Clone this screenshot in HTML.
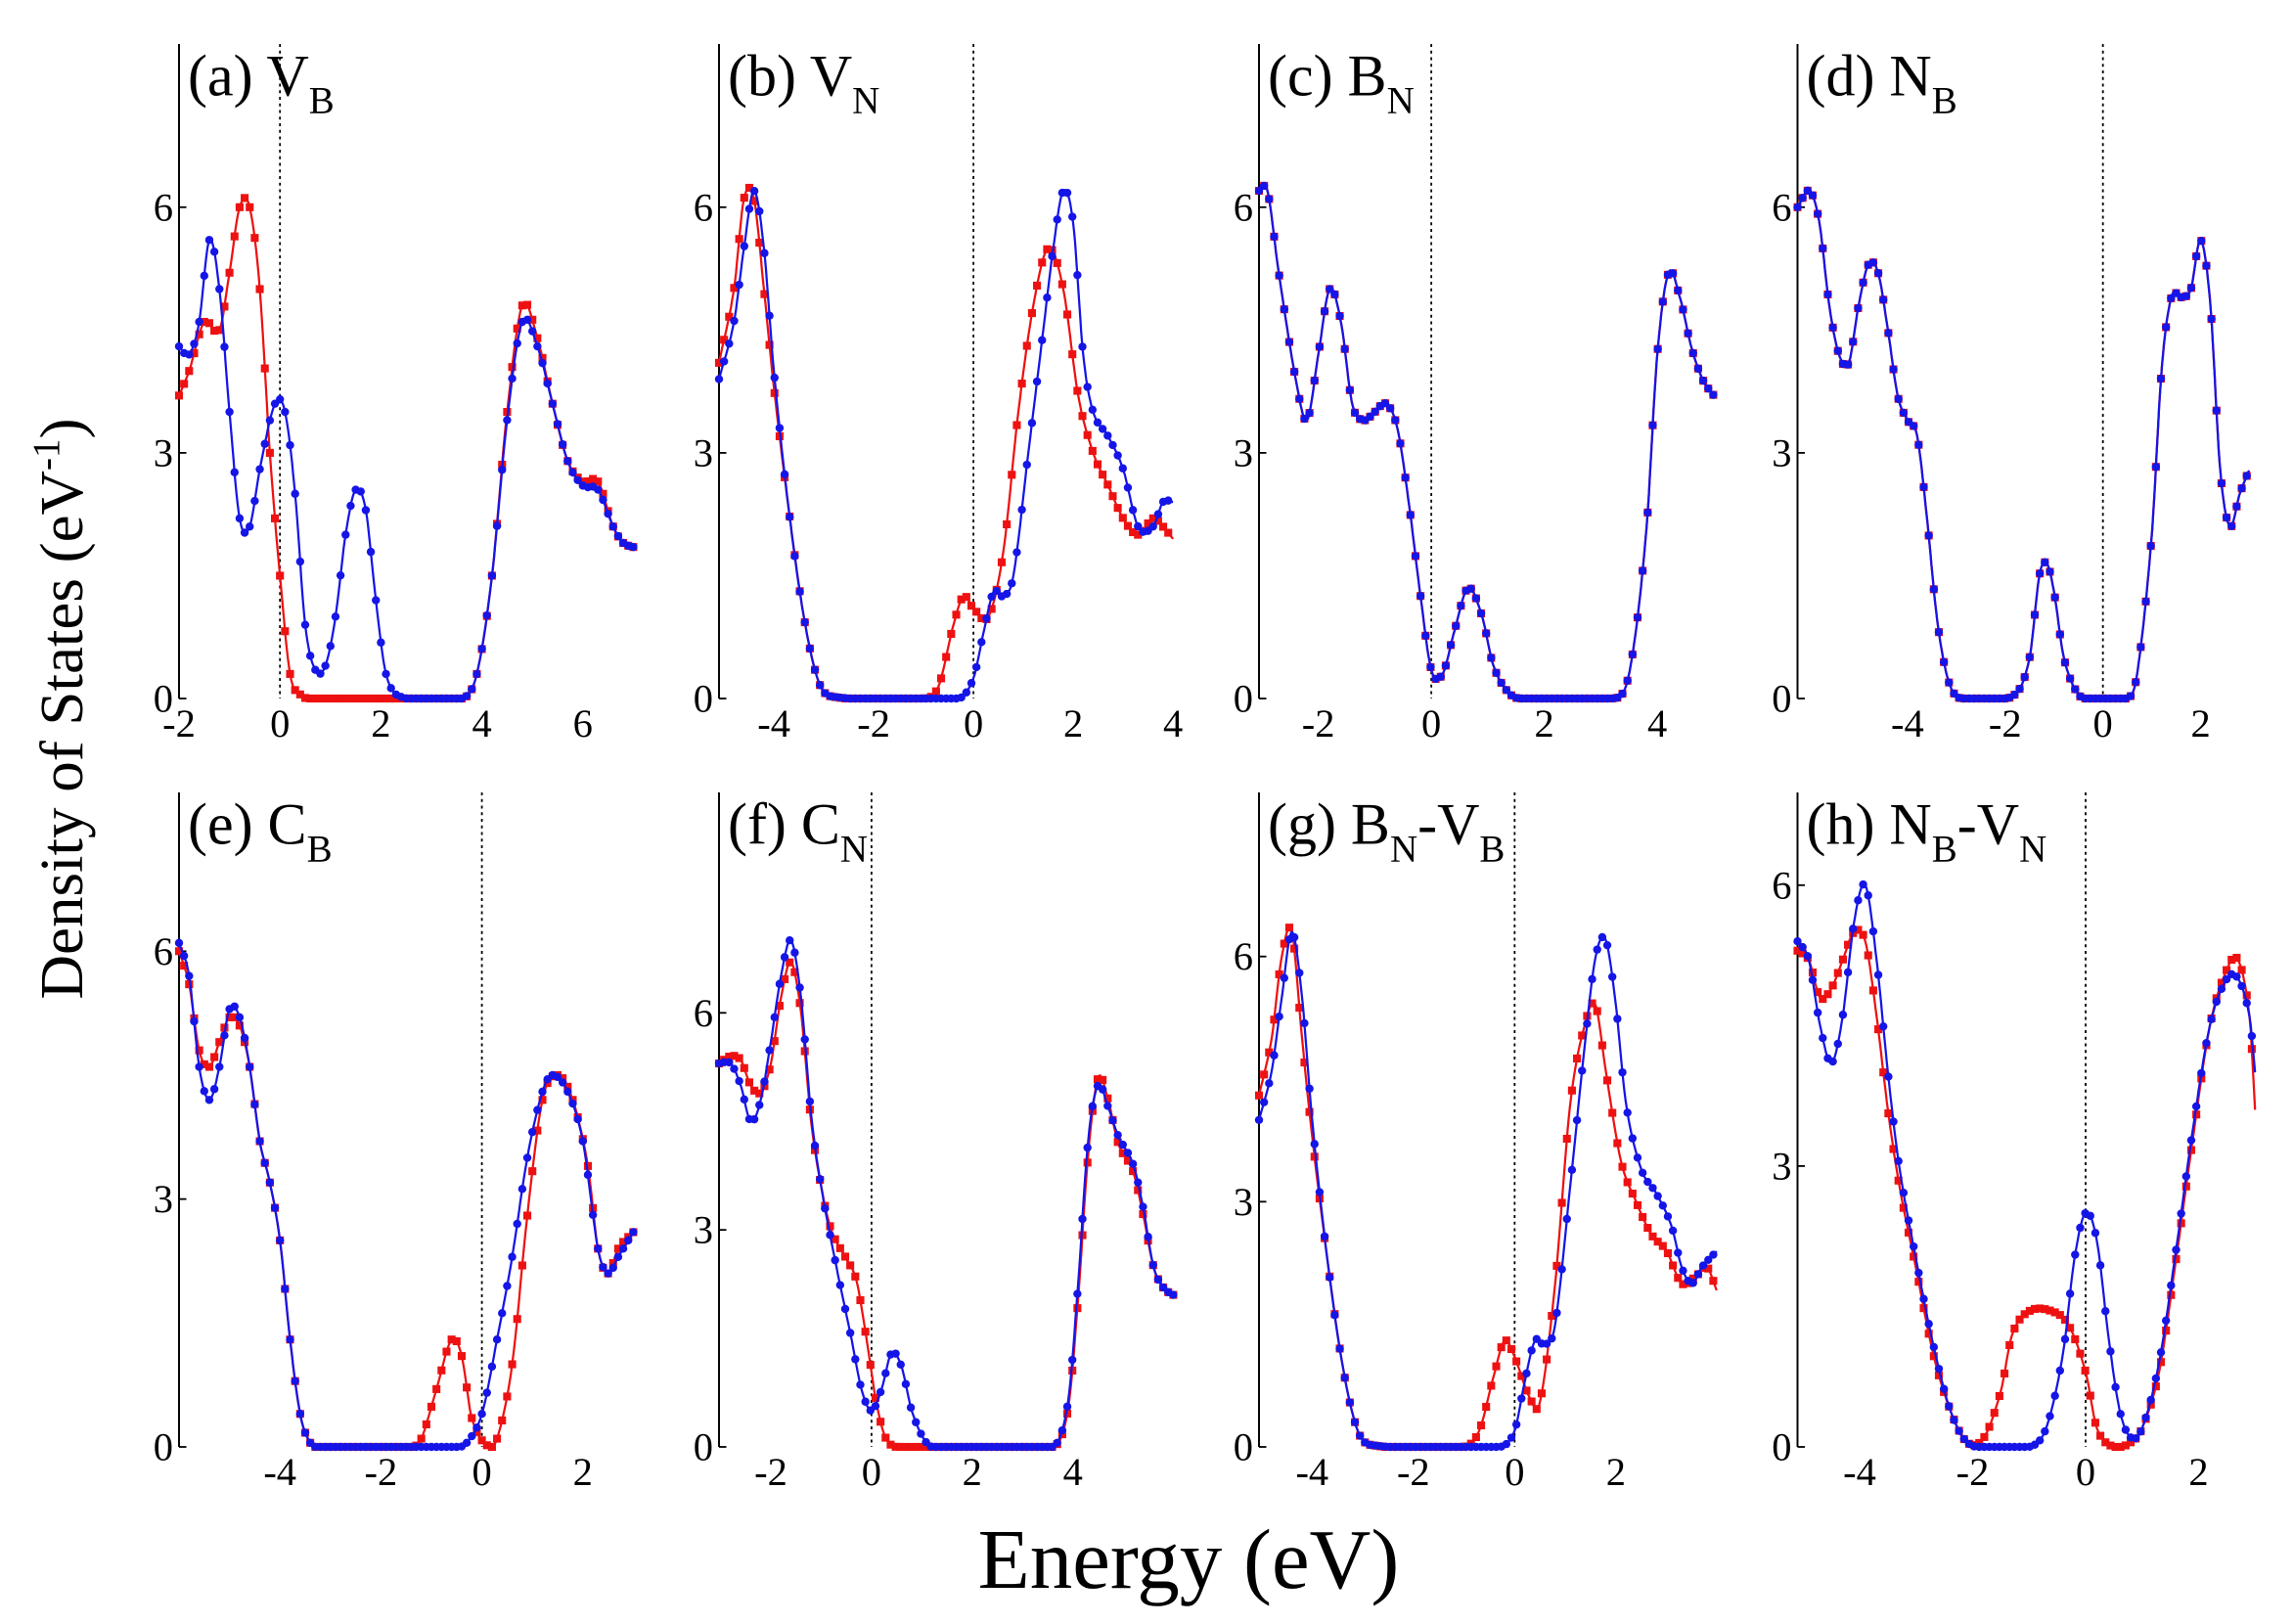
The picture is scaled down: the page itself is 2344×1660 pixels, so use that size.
<!DOCTYPE html>
<html><head><meta charset="utf-8"><style>
html,body{margin:0;padding:0;background:#fff}
svg{display:block}
text{font-family:"Liberation Serif",serif;fill:#000}
</style></head><body>
<svg id="s" width="2344" height="1660" viewBox="0 0 1562.67 1106.67" xmlns="http://www.w3.org/2000/svg">
<text x="0" y="0" transform="translate(56,483) rotate(-90)" text-anchor="middle" font-size="42">Density of States (eV<tspan dy="-16" font-size="26">-1</tspan><tspan dy="16">)</tspan></text>
<text x="810" y="1082" text-anchor="middle" font-size="58">Energy (eV)</text>
</svg>
<script>
const NS="http://www.w3.org/2000/svg";
const svg=document.getElementById('s');
function el(t,a,txt){const e=document.createElementNS(NS,t);for(const k in a)e.setAttribute(k,a[k]);if(txt!==undefined)e.textContent=txt;svg.appendChild(e);return e;}
function interp(pts,x){
 let i=0;while(i<pts.length-2&&x>pts[i+1][0])i++;
 const p1=pts[i],p2=pts[i+1],p0=pts[i-1]||p1,p3=pts[i+2]||p2;
 const t=(x-p1[0])/(p2[0]-p1[0]);
 const m1=(p2[1]-p0[1])/(p2[0]-p0[0]||1)*(p2[0]-p1[0]);
 const m2=(p3[1]-p1[1])/(p3[0]-p1[0]||1)*(p2[0]-p1[0]);
 const t2=t*t,t3=t2*t;
 let y=(2*t3-3*t2+1)*p1[1]+(t3-2*t2+t)*m1+(-2*t3+3*t2)*p2[1]+(t3-t2)*m2;
 return Math.max(0,y);
}
const P=[
{ax:122,y0:476,top:30,x0:-2,x1:7,sx:34.4,sy:55.8,ticksX:[-2,0,2,4,6],ticksY:[0,3,6],lab:["(a) V","B",""],
 b:[[-2,4.3],[-1.8,4.2],[-1.6,4.6],[-1.4,5.6],[-1.2,5.0],[-1,3.5],[-0.8,2.2],[-0.6,2.1],[-0.4,2.8],[-0.1,3.6],[0.1,3.5],[0.3,2.5],[0.5,0.9],[0.7,0.35],[0.9,0.4],[1.1,1.0],[1.3,2.0],[1.5,2.55],[1.7,2.3],[1.9,1.2],[2.1,0.3],[2.4,0.02],[3.6,0],[3.9,0.3],[4.2,1.5],[4.5,3.4],[4.8,4.6],[5.1,4.3],[5.4,3.6],[5.7,2.9],[6,2.6],[6.3,2.55],[6.6,2.1],[6.8,1.9],[7,1.85]],
 r:[[-2,3.7],[-1.8,4.0],[-1.5,4.6],[-1.2,4.5],[-1,5.2],[-0.8,6.0],[-0.6,6.0],[-0.4,5.0],[-0.2,3.0],[0,1.5],[0.2,0.3],[0.4,0.05],[0.6,0],[3.6,0],[3.9,0.3],[4.2,1.5],[4.5,3.5],[4.8,4.8],[5.1,4.4],[5.4,3.6],[5.7,2.9],[6,2.65],[6.3,2.65],[6.6,2.1],[6.8,1.9],[7,1.85]]},
{ax:490,y0:476,top:30,x0:-5.1,x1:4,sx:34,sy:55.8,ticksX:[-4,-2,0,2,4],ticksY:[0,3,6],lab:["(b) V","N",""],
 r:[[-5.1,4.1],[-4.8,5.0],[-4.6,6.1],[-4.4,6.1],[-4.2,5.0],[-4,3.8],[-3.7,2.3],[-3.4,1.0],[-3.1,0.2],[-2.8,0.02],[-1,0],[-0.7,0.15],[-0.4,0.9],[-0.2,1.25],[0,1.1],[0.3,1.0],[0.6,1.8],[0.9,3.5],[1.2,4.8],[1.5,5.5],[1.8,5.0],[2.1,3.7],[2.4,3.0],[2.7,2.6],[3,2.2],[3.3,2.0],[3.6,2.2],[3.8,2.1],[4,1.95]],
 b:[[-5.1,3.9],[-4.8,4.6],[-4.6,5.5],[-4.4,6.2],[-4.2,5.5],[-4,4.0],[-3.7,2.3],[-3.4,1.0],[-3.1,0.2],[-2.8,0.02],[-0.3,0],[0,0.25],[0.2,0.8],[0.4,1.3],[0.6,1.25],[0.8,1.5],[1.1,3.0],[1.4,4.5],[1.6,5.5],[1.8,6.2],[2,5.8],[2.2,4.2],[2.4,3.5],[2.7,3.2],[3,2.8],[3.3,2.1],[3.6,2.1],[3.8,2.4],[4,2.4]]},
{ax:858,y0:476,top:30,x0:-3.05,x1:5,sx:38.5,sy:55.8,ticksX:[-2,0,2,4],ticksY:[0,3,6],lab:["(c) B","N",""],
 r:[[-3.05,6.2],[-2.9,6.2],[-2.7,5.2],[-2.4,3.9],[-2.2,3.4],[-2,4.2],[-1.8,5.0],[-1.6,4.6],[-1.4,3.6],[-1.2,3.4],[-1,3.5],[-0.8,3.6],[-0.6,3.3],[-0.4,2.4],[-0.2,1.3],[0,0.35],[0.2,0.3],[0.4,0.8],[0.65,1.35],[0.9,1.0],[1.1,0.4],[1.4,0.05],[1.7,0],[3.2,0],[3.5,0.3],[3.8,2.0],[4,4.2],[4.2,5.2],[4.4,4.9],[4.6,4.3],[4.8,3.9],[5,3.7]]},
{ax:1225,y0:476,top:30,x0:-6.25,x1:3,sx:33.3,sy:55.8,ticksX:[-4,-2,0,2],ticksY:[0,3,6],lab:["(d) N","B",""],
 r:[[-6.25,6.0],[-6,6.2],[-5.8,5.8],[-5.6,4.8],[-5.4,4.2],[-5.2,4.1],[-5,4.8],[-4.8,5.3],[-4.6,5.2],[-4.4,4.5],[-4.2,3.7],[-4,3.4],[-3.8,3.2],[-3.6,2.2],[-3.4,1.0],[-3.2,0.3],[-3,0.03],[-2.6,0],[-1.8,0.05],[-1.5,0.5],[-1.3,1.5],[-1.15,1.65],[-1,1.3],[-0.8,0.5],[-0.5,0.05],[-0.2,0],[0.5,0],[0.7,0.3],[1,2.0],[1.2,4.0],[1.4,4.9],[1.6,4.9],[1.8,5.0],[2,5.6],[2.2,4.8],[2.4,2.8],[2.6,2.1],[2.8,2.5],[3,2.8]]},
{ax:122,y0:986,top:540,x0:-6,x1:3,sx:34.4,sy:56.3,ticksX:[-4,-2,0,2],ticksY:[0,3,6],lab:["(e) C","B",""],
 r:[[-6,6.0],[-5.8,5.6],[-5.6,4.8],[-5.4,4.6],[-5.2,4.9],[-5,5.2],[-4.8,5.1],[-4.6,4.6],[-4.4,3.7],[-4.2,3.2],[-4,2.5],[-3.8,1.3],[-3.6,0.4],[-3.4,0.05],[-3.2,0],[-1.4,0],[-1.2,0.1],[-0.9,0.7],[-0.6,1.3],[-0.4,1.1],[-0.2,0.35],[0.1,0.02],[0.3,0.1],[0.6,1.0],[0.9,2.8],[1.2,4.2],[1.5,4.5],[1.8,4.2],[2.1,3.4],[2.3,2.4],[2.5,2.1],[2.7,2.4],[3,2.6]],
 b:[[-6,6.1],[-5.8,5.7],[-5.6,4.6],[-5.4,4.2],[-5.2,4.6],[-5,5.3],[-4.8,5.2],[-4.6,4.6],[-4.4,3.7],[-4.2,3.2],[-4,2.5],[-3.8,1.3],[-3.6,0.4],[-3.4,0.05],[-3.2,0],[-0.5,0],[-0.3,0.05],[0,0.4],[0.3,1.3],[0.6,2.3],[0.9,3.5],[1.2,4.3],[1.4,4.5],[1.7,4.3],[2,3.7],[2.3,2.4],[2.5,2.1],[2.7,2.3],[3,2.6]]},
{ax:490,y0:986,top:540,x0:-3.03,x1:6,sx:34.3,sy:49.3,ticksX:[-2,0,2,4],ticksY:[0,3,6],lab:["(f) C","N",""],
 r:[[-3.03,5.3],[-2.8,5.4],[-2.6,5.35],[-2.4,5.0],[-2.2,4.9],[-2,5.3],[-1.8,6.2],[-1.6,6.7],[-1.4,6.0],[-1.2,4.5],[-1,3.6],[-0.8,3.0],[-0.5,2.6],[-0.3,2.3],[-0.1,1.5],[0.1,0.6],[0.3,0.1],[0.6,0],[3.6,0],[3.9,0.5],[4.1,2.0],[4.3,4.0],[4.5,5.1],[4.7,4.8],[4.9,4.2],[5.2,3.8],[5.4,3.2],[5.6,2.5],[5.8,2.2],[6,2.1]],
 b:[[-3.03,5.3],[-2.8,5.3],[-2.6,5.0],[-2.4,4.5],[-2.2,4.8],[-2,5.6],[-1.8,6.5],[-1.6,7.0],[-1.4,6.2],[-1.2,4.6],[-1,3.6],[-0.7,2.5],[-0.4,1.5],[-0.2,0.8],[0,0.5],[0.2,0.8],[0.4,1.3],[0.6,1.1],[0.8,0.5],[1.1,0.05],[1.4,0],[3.6,0],[3.9,0.6],[4.1,2.2],[4.3,4.2],[4.5,5.0],[4.7,4.7],[4.9,4.3],[5.2,3.9],[5.4,3.3],[5.6,2.5],[5.8,2.2],[6,2.1]]},
{ax:858,y0:986,top:540,x0:-5.05,x1:4,sx:34.5,sy:55.7,ticksX:[-4,-2,0,2],ticksY:[0,3,6],lab:["(g) B","N","-V","B"],
 r:[[-5.05,4.3],[-4.8,5.0],[-4.6,6.0],[-4.4,6.3],[-4.2,5.0],[-4,3.8],[-3.7,2.3],[-3.4,1.0],[-3.1,0.2],[-2.8,0.02],[-1,0],[-0.7,0.2],[-0.4,0.9],[-0.2,1.3],[0,1.1],[0.3,0.6],[0.5,0.55],[0.8,2.0],[1.1,4.2],[1.4,5.2],[1.6,5.4],[1.8,4.6],[2.1,3.5],[2.4,3.0],[2.7,2.6],[3,2.4],[3.3,2.0],[3.6,2.1],[3.8,2.2],[4,1.9]],
 b:[[-5.05,4.0],[-4.8,4.6],[-4.6,5.5],[-4.4,6.3],[-4.2,5.5],[-4,4.0],[-3.7,2.3],[-3.4,1.0],[-3.1,0.2],[-2.8,0.02],[-0.3,0],[0,0.2],[0.2,0.8],[0.4,1.3],[0.6,1.25],[0.8,1.5],[1.1,3.2],[1.4,5.0],[1.6,6.0],[1.8,6.2],[2,5.4],[2.2,4.2],[2.5,3.4],[2.8,3.1],[3.1,2.7],[3.3,2.2],[3.5,2.0],[3.7,2.2],[4,2.4]]},
{ax:1225,y0:986,top:540,x0:-5.1,x1:3,sx:38.5,sy:63.8,ticksX:[-4,-2,0,2],ticksY:[0,3,6],lab:["(h) N","B","-V","N"],
 r:[[-5.1,5.3],[-4.9,5.2],[-4.7,4.8],[-4.5,4.9],[-4.3,5.2],[-4.1,5.5],[-3.9,5.4],[-3.7,4.6],[-3.5,3.6],[-3.3,2.8],[-3,1.9],[-2.7,1.0],[-2.4,0.4],[-2.1,0.05],[-1.8,0.1],[-1.5,0.6],[-1.3,1.2],[-1,1.45],[-0.6,1.45],[-0.3,1.3],[0,0.8],[0.2,0.2],[0.5,0],[0.8,0.05],[1,0.2],[1.3,0.8],[1.6,2.0],[1.9,3.3],[2.2,4.5],[2.5,5.1],[2.7,5.2],[2.9,4.6],[3,3.6]],
 b:[[-5.1,5.4],[-4.9,5.2],[-4.7,4.5],[-4.5,4.1],[-4.3,4.6],[-4.1,5.6],[-3.9,6.0],[-3.7,5.2],[-3.5,4.0],[-3.3,3.0],[-3,2.0],[-2.7,1.1],[-2.4,0.4],[-2.1,0.05],[-1.7,0],[-1,0],[-0.7,0.2],[-0.4,1.0],[-0.2,2.0],[0,2.5],[0.2,2.2],[0.4,1.2],[0.6,0.4],[0.8,0.1],[1,0.2],[1.3,0.9],[1.6,2.1],[1.9,3.4],[2.2,4.5],[2.5,5.0],[2.7,5.0],[2.9,4.6],[3,4.0]]}
];
P.forEach(p=>{
 if(!p.b)p.b=p.r;
 const X=x=>p.ax+(x-p.x0)*p.sx, Y=y=>p.y0-y*p.sy;
 el('line',{x1:p.ax,y1:p.top,x2:p.ax,y2:p.y0,stroke:'#000','stroke-width':1.3});
 el('line',{x1:X(0),y1:p.top,x2:X(0),y2:p.y0,stroke:'#000','stroke-width':1.2,'stroke-dasharray':'2,2.5'});
 p.ticksY.forEach(t=>{el('line',{x1:p.ax,y1:Y(t),x2:p.ax+5,y2:Y(t),stroke:'#000','stroke-width':1.2});
   el('text',{x:p.ax-4,y:Y(t)+9,'text-anchor':'end','font-size':27},String(t));});
 p.ticksX.forEach(t=>el('text',{x:X(t),y:p.y0+26,'text-anchor':'middle','font-size':27},String(t)));
 const t=el('text',{x:p.ax+6,y:p.top+35,'font-size':40});
 const L=p.lab;
 t.innerHTML=`${L[0]}<tspan dy="12" font-size="26">${L[1]}</tspan>`+(L[2]?`<tspan dy="-12">${L[2]}</tspan><tspan dy="12" font-size="26">${L[3]}</tspan>`:'');
 [['r','#ee1111'],['b','#1515e8']].forEach(([k,c])=>{
   const pts=p[k]; let d='';
   for(let x=p.x0;x<=p.x1+1e-9;x+=0.02){d+=(d?'L':'M')+X(x).toFixed(1)+','+Y(interp(pts,x)).toFixed(1);}
   el('path',{d:d,fill:'none',stroke:c,'stroke-width':1.5});
   const step=0.1*34.4/p.sx;
   for(let x=p.x0;x<=p.x1+1e-9;x+=step){const cx=X(x),cy=Y(interp(pts,x));
     if(k==='r')el('rect',{x:cx-2.7,y:cy-2.7,width:5.4,height:5.4,fill:c});
     else el('circle',{cx:cx,cy:cy,r:2.8,fill:c});}
 });
});
</script>
</body></html>
